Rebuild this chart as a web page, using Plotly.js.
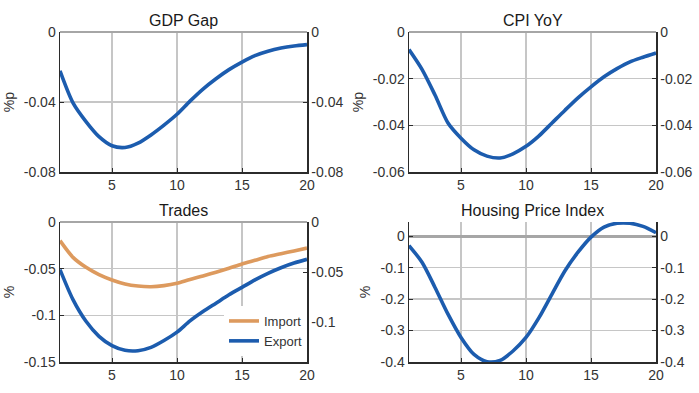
<!DOCTYPE html>
<html>
<head>
<meta charset="utf-8">
<script src="https://cdn.plot.ly/plotly-3.0.1.min.js"></script>
<style>html,body{margin:0;padding:0;background:#fff;}#chart{width:699px;height:393px;}</style>
</head>
<body>
<div id="chart"></div>
<script>
// Horizon (quarters)
const horizon = [1,2,3,4,5,6,7,8,9,10,11,12,13,14,15,16,17,18,19,20];

// Series values
const gdpGap = [-0.0222,-0.0405,-0.0512,-0.0598,-0.0650,-0.0660,-0.0635,-0.0588,-0.0532,-0.0470,-0.0395,-0.0326,-0.0267,-0.0215,-0.0172,-0.0135,-0.0110,-0.0092,-0.0080,-0.0072];
const cpiYoY = [-0.0075,-0.0160,-0.0270,-0.0390,-0.0455,-0.0505,-0.0532,-0.0540,-0.0522,-0.0490,-0.0445,-0.0390,-0.0335,-0.0282,-0.0235,-0.0192,-0.0157,-0.0128,-0.0108,-0.0090];
const importVals = [-0.020,-0.0379,-0.0486,-0.0564,-0.0621,-0.0664,-0.0686,-0.0693,-0.0682,-0.0657,-0.0615,-0.0578,-0.0538,-0.0495,-0.0450,-0.0410,-0.0370,-0.0340,-0.0310,-0.0280];
const exportVals = [-0.051,-0.0832,-0.1064,-0.1225,-0.1325,-0.1375,-0.1379,-0.1343,-0.1270,-0.1180,-0.1060,-0.0960,-0.0870,-0.0780,-0.0700,-0.0620,-0.0550,-0.0490,-0.0440,-0.0400];
const housing = [-0.030,-0.083,-0.163,-0.248,-0.322,-0.376,-0.399,-0.395,-0.365,-0.322,-0.259,-0.184,-0.110,-0.051,-0.003,0.029,0.041,0.041,0.031,0.011];

// Titles, labels and tick values
const panelTitles = ["GDP Gap","CPI YoY","Trades","Housing Price Index"];
const yLabels = ["%p","%p","%","%"];
const seriesNames = ["Import","Export"];
const xTicks = [5,10,15,20];
const gdpTicks = [0,-0.04,-0.08];
const cpiTicks = [0,-0.02,-0.04,-0.06];
const tradeTicks = [0,-0.05,-0.1,-0.15];
const tradeRightTicks = [0,-0.05,-0.1];
const housingTicks = [0,-0.1,-0.2,-0.3,-0.4];

const blue = '#1c5cae';
const orange = '#dd9a5e';
const axisCol = '#2b2b2b';
const font = {family:'"Liberation Sans", Arial, sans-serif', size:14, color:'#333'};

const W = 699, H = 393;
const colX = [[60,307],[409,656]];
const rowY = [[32,172],[222,362]];
const dx = c => [colX[c][0]/W, colX[c][1]/W];
const dy = r => [(H-rowY[r][1])/H, (H-rowY[r][0])/H];

const lineStyle = c => ({color:c, width:3.6, shape:'spline', smoothing:0.8});
// invisible companions so the right-hand axes are drawn
const ghost = (y, xa, ya) => ({x:horizon, y:y, xaxis:xa, yaxis:ya, mode:'lines', line:{width:0}, opacity:0, showlegend:false, hoverinfo:'skip'});

const traces = [
  {x:horizon, y:gdpGap, xaxis:'x', yaxis:'y', mode:'lines', line:lineStyle(blue), showlegend:false, hoverinfo:'skip'},
  {x:horizon, y:cpiYoY, xaxis:'x2', yaxis:'y2', mode:'lines', line:lineStyle(blue), showlegend:false, hoverinfo:'skip'},
  {x:horizon, y:importVals, xaxis:'x3', yaxis:'y3', mode:'lines', name:seriesNames[0], line:lineStyle(orange)},
  {x:horizon, y:exportVals, xaxis:'x3', yaxis:'y3', mode:'lines', name:seriesNames[1], line:lineStyle(blue)},
  {x:horizon, y:housing, xaxis:'x4', yaxis:'y4', mode:'lines', line:lineStyle(blue), showlegend:false, hoverinfo:'skip'},
  ghost(gdpGap,'x','y5'), ghost(cpiYoY,'x2','y6'), ghost(exportVals,'x3','y7'), ghost(housing,'x4','y8')
];

const gridCol = '#c6c6c6';
const gridW = 1.5;
function xAxis(c, r, anchor){
  return {domain:dx(c), anchor:anchor, range:[1,20], tickmode:'array', tickvals:xTicks, ticktext:xTicks.map(String),
    showline:true, linecolor:axisCol, linewidth:1.5, ticks:'inside', ticklen:4, tickcolor:axisCol,
    showgrid:true, gridcolor:gridCol, gridwidth:gridW, zeroline:false, tickfont:font, fixedrange:true};
}
function yLeft(r, anchor, range, ticks, label){
  return {domain:dy(r), anchor:anchor, range:range, tickmode:'array', tickvals:ticks, ticktext:ticks.map(String),
    showline:true, linecolor:axisCol, linewidth:1.5, ticks:'inside', ticklen:4, tickcolor:axisCol,
    showgrid:true, gridcolor:gridCol, gridwidth:gridW, zeroline:true, zerolinecolor:'#a6a6a6', zerolinewidth:2.8,
    tickfont:font, title:{text:label, font:font, standoff:6}, fixedrange:true};
}
function yRight(overlay, anchor, range, ticks){
  return {overlaying:overlay, anchor:anchor, side:'right', range:range, tickmode:'array', tickvals:ticks, ticktext:ticks.map(String),
    showline:true, linecolor:axisCol, linewidth:1.5, ticks:'inside', ticklen:4, tickcolor:axisCol,
    showgrid:false, zeroline:false, tickfont:font, fixedrange:true};
}

const annFont = {family:'"Liberation Sans", Arial, sans-serif', size:16, color:'#1a1a1a'};
const titlePos = [[0,0,20],[1,0,20],[0,1,210],[1,1,210]];
const annotations = titlePos.map((p,i)=>({
  text:panelTitles[i], xref:'paper', yref:'paper', showarrow:false,
  x:(colX[p[0]][0]+colX[p[0]][1])/2/W, y:(H-p[2])/H, xanchor:'center', yanchor:'middle', font:annFont
}));

const layout = {
  width:W, height:H, margin:{l:0,r:0,t:0,b:0}, paper_bgcolor:'#fff', plot_bgcolor:'#fff',
  font:font, showlegend:true,
  legend:{x:307/W, y:(H-356)/H, xanchor:'right', yanchor:'bottom', bgcolor:'rgba(255,255,255,1)',
    borderwidth:0, font:{family:'"Liberation Sans", Arial, sans-serif', size:13, color:'#333'},
    tracegroupgap:0, itemwidth:30},
  xaxis: xAxis(0,0,'y'),
  yaxis: yLeft(0,'x',[-0.08,0],gdpTicks,yLabels[0]),
  xaxis2: xAxis(1,0,'y2'),
  yaxis2: yLeft(0,'x2',[-0.06,0],cpiTicks,yLabels[1]),
  xaxis3: xAxis(0,1,'y3'),
  yaxis3: yLeft(1,'x3',[-0.15,0],tradeTicks,yLabels[2]),
  xaxis4: xAxis(1,1,'y4'),
  yaxis4: yLeft(1,'x4',[-0.4,0.045],housingTicks,yLabels[3]),
  yaxis5: yRight('y','x',[-0.08,0],gdpTicks),
  yaxis6: yRight('y2','x2',[-0.06,0],cpiTicks),
  yaxis7: yRight('y3','x3',[-0.14,0],tradeRightTicks),
  yaxis8: yRight('y4','x4',[-0.4,0.045],housingTicks),
  annotations:annotations
};

Plotly.newPlot('chart', traces, layout, {displayModeBar:false, staticPlot:true});
</script>
</body>
</html>
